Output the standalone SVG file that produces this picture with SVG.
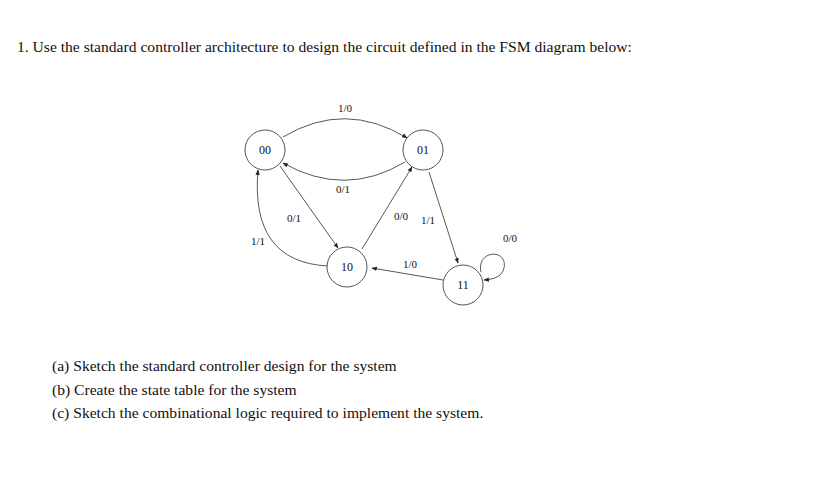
<svg xmlns="http://www.w3.org/2000/svg" width="820" height="487" viewBox="0 0 820 487">
<style>
text{font-family:"Liberation Serif",serif;fill:#111}
.t{font-size:15.6px}
.n{font-size:12px;text-anchor:middle}
.l{font-size:11px;text-anchor:middle}
circle{fill:#fff;stroke:#555;stroke-width:1}
.c path{fill:none;stroke:#444;stroke-width:0.9;marker-end:url(#a)}
</style>
<defs><marker id="a" viewBox="0 0 10 10" refX="9" refY="5" markerWidth="6" markerHeight="6" orient="auto"><path d="M0,1 L10,5 L0,9z" fill="#222"/></marker></defs>
<rect width="820" height="487" fill="#fff"/>
<text class="t" x="17" y="52">1.  Use the standard controller architecture to design the circuit defined in the FSM diagram below:</text>
<g class="c">
<path d="M283,137 Q345,100 407,138"/>
<path d="M405,162 Q345,198 283,163"/>
<path d="M280,166 L338,248"/>
<path d="M328,266 Q250,262 258,170"/>
<path d="M362,249 L412,167"/>
<path d="M429,172 L458,263"/>
<path d="M443,280 L372,268"/>
<path d="M481,272 C476,250 508,248 504,268 C502,276 496,279 484,280"/>
</g>
<g id="n00"><circle cx="265" cy="150" r="20"/><text class="n" x="265" y="154">00</text></g>
<g id="n01"><circle cx="423" cy="150" r="20"/><text class="n" x="423" y="154">01</text></g>
<g id="n10"><circle cx="347" cy="267" r="20"/><text class="n" x="347" y="271">10</text></g>
<g id="n11"><circle cx="463" cy="285" r="20"/><text class="n" x="463" y="289">11</text></g>
<g>
<text class="l" x="345" y="112">1/0</text>
<text class="l" x="343" y="193">0/1</text>
<text class="l" x="294" y="222">0/1</text>
<text class="l" x="258" y="245">1/1</text>
<text class="l" x="401" y="220">0/0</text>
<text class="l" x="428" y="224">1/1</text>
<text class="l" x="410" y="268">1/0</text>
<text class="l" x="510" y="242">0/0</text>
</g>
<text class="t" x="52" y="371">(a)  Sketch the standard controller design for the system</text>
<text class="t" x="52" y="395">(b)  Create the state table for the system</text>
<text class="t" x="52" y="418">(c)  Sketch the combinational logic required to implement the system.</text>
</svg>
